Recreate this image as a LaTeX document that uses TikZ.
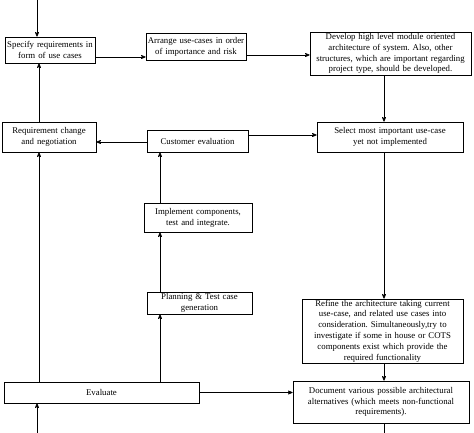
\documentclass[tikz,border=0pt]{standalone}
\usepackage{fontspec}
\setmainfont{Liberation Serif}
\usetikzlibrary{arrows}
\frenchspacing

\tikzset{
  BoxStyle/.style={draw, line width=0.7pt, rectangle, align=center, inner sep=0pt,
    font=\fontsize{8.8}{10.8}\selectfont},
  EdgeStyle/.style={->, >=stealth', line width=0.7pt}
}

\begin{document}
\begin{tikzpicture}[x=1pt, y=-1pt]
    \useasboundingbox (0,0) rectangle (474,433);

    \node[BoxStyle, minimum width=90pt,  minimum height=26pt, text width=88pt]  (Spec)      at (50,50)     {Specify requirements in\\ form of use cases};
    \node[BoxStyle, minimum width=100pt, minimum height=27pt, text width=98pt]  (Arrange)   at (196,46.5)  {Arrange use-cases in order\\ of importance and risk};
    \node[BoxStyle, minimum width=161pt, minimum height=43pt, text width=159pt] (Develop)   at (390.5,53.5){Develop high level module oriented\\ architecture of system. Also, other\\ structures, which are important regarding\\ project type, should be developed.};
    \node[BoxStyle, minimum width=94pt,  minimum height=30pt, text width=92pt]  (ReqChange) at (49,137)    {Requirement change\\ and negotiation};
    \node[BoxStyle, minimum width=101pt, minimum height=22pt, text width=99pt]  (CustEval)  at (197.5,141) {Customer evaluation};
    \node[BoxStyle, minimum width=146pt, minimum height=30pt, text width=144pt] (Select)    at (390,137)   {Select most important use-case\\ yet not implemented};
    \node[BoxStyle, minimum width=108pt, minimum height=29pt, text width=106pt] (Implement) at (198,217.5) {Implement components,\\ test and integrate.};
    \node[BoxStyle, minimum width=105pt, minimum height=22pt, text width=103pt] (Planning)  at (199.5,303) {Planning \& Test case\\ generation};
    \node[BoxStyle, minimum width=195pt, minimum height=21pt, text width=193pt] (Evaluate)  at (101.5,392.5){Evaluate};
    \node[BoxStyle, minimum width=161pt, minimum height=64pt, text width=159pt] (Refine)    at (382.5,331) {Refine the architecture taking current\\ use-case, and related use cases into\\ consideration. Simultaneously,try to\\ investigate if some in house or COTS\\ components exist which provide the\\ required functionality};
    \node[BoxStyle, minimum width=176pt, minimum height=42pt, text width=174pt] (Document)  at (381,402)   {Document various possible architectural\\ alternatives (which meets non-functional\\ requirements).};

    \coordinate (In)   at (37,0);
    \coordinate (Back) at (37,433);
    \coordinate (Out)  at (384,433);

    \draw[EdgeStyle] (In) -- (In |- Spec.north);
    \draw[EdgeStyle] ([yshift=-7pt]Spec.east) -- ([yshift=-7pt]Spec.east -| Arrange.west);
    \draw[EdgeStyle] ([yshift=-8.5pt]Arrange.east) -- ([yshift=-8.5pt]Arrange.east -| Develop.west);
    \draw[EdgeStyle] ([xshift=-6.5pt]Develop.south) -- ([xshift=-6.5pt]Develop.south |- Select.north);
    \draw[EdgeStyle] ([yshift=6pt]CustEval.east) -- ([yshift=6pt]CustEval.east -| Select.west);
    \draw[EdgeStyle] ([yshift=-1pt]CustEval.west) -- ([yshift=-1pt]CustEval.west -| ReqChange.east);
    \draw[EdgeStyle] ([xshift=-10pt]ReqChange.north) -- ([xshift=-10pt]ReqChange.north |- Spec.south);
    \draw[EdgeStyle] ([xshift=-10pt]ReqChange.south |- Evaluate.north) -- ([xshift=-10pt]ReqChange.south);
    \draw[EdgeStyle] ([xshift=-37.5pt]CustEval.south |- Implement.north) -- ([xshift=-37.5pt]CustEval.south);
    \draw[EdgeStyle] ([xshift=-37.5pt]CustEval.south |- Planning.north) -- ([xshift=-37.5pt]CustEval.south |- Implement.south);
    \draw[EdgeStyle] ([xshift=-37.5pt]CustEval.south |- Evaluate.north) -- ([xshift=-37.5pt]CustEval.south |- Planning.south);
    \draw[EdgeStyle] ([xshift=-6pt]Select.south) -- ([xshift=-6pt]Select.south |- Refine.north);
    \draw[EdgeStyle] (Out |- Refine.south) -- (Out |- Document.north);
    \draw[EdgeStyle] (Evaluate.east) -- (Evaluate.east -| Document.west);
    \draw[line width=0.7pt] (Out |- Document.south) -- (Out);
    \draw[EdgeStyle] (Back) -- (Back |- Evaluate.south);

\end{tikzpicture}
\end{document}
